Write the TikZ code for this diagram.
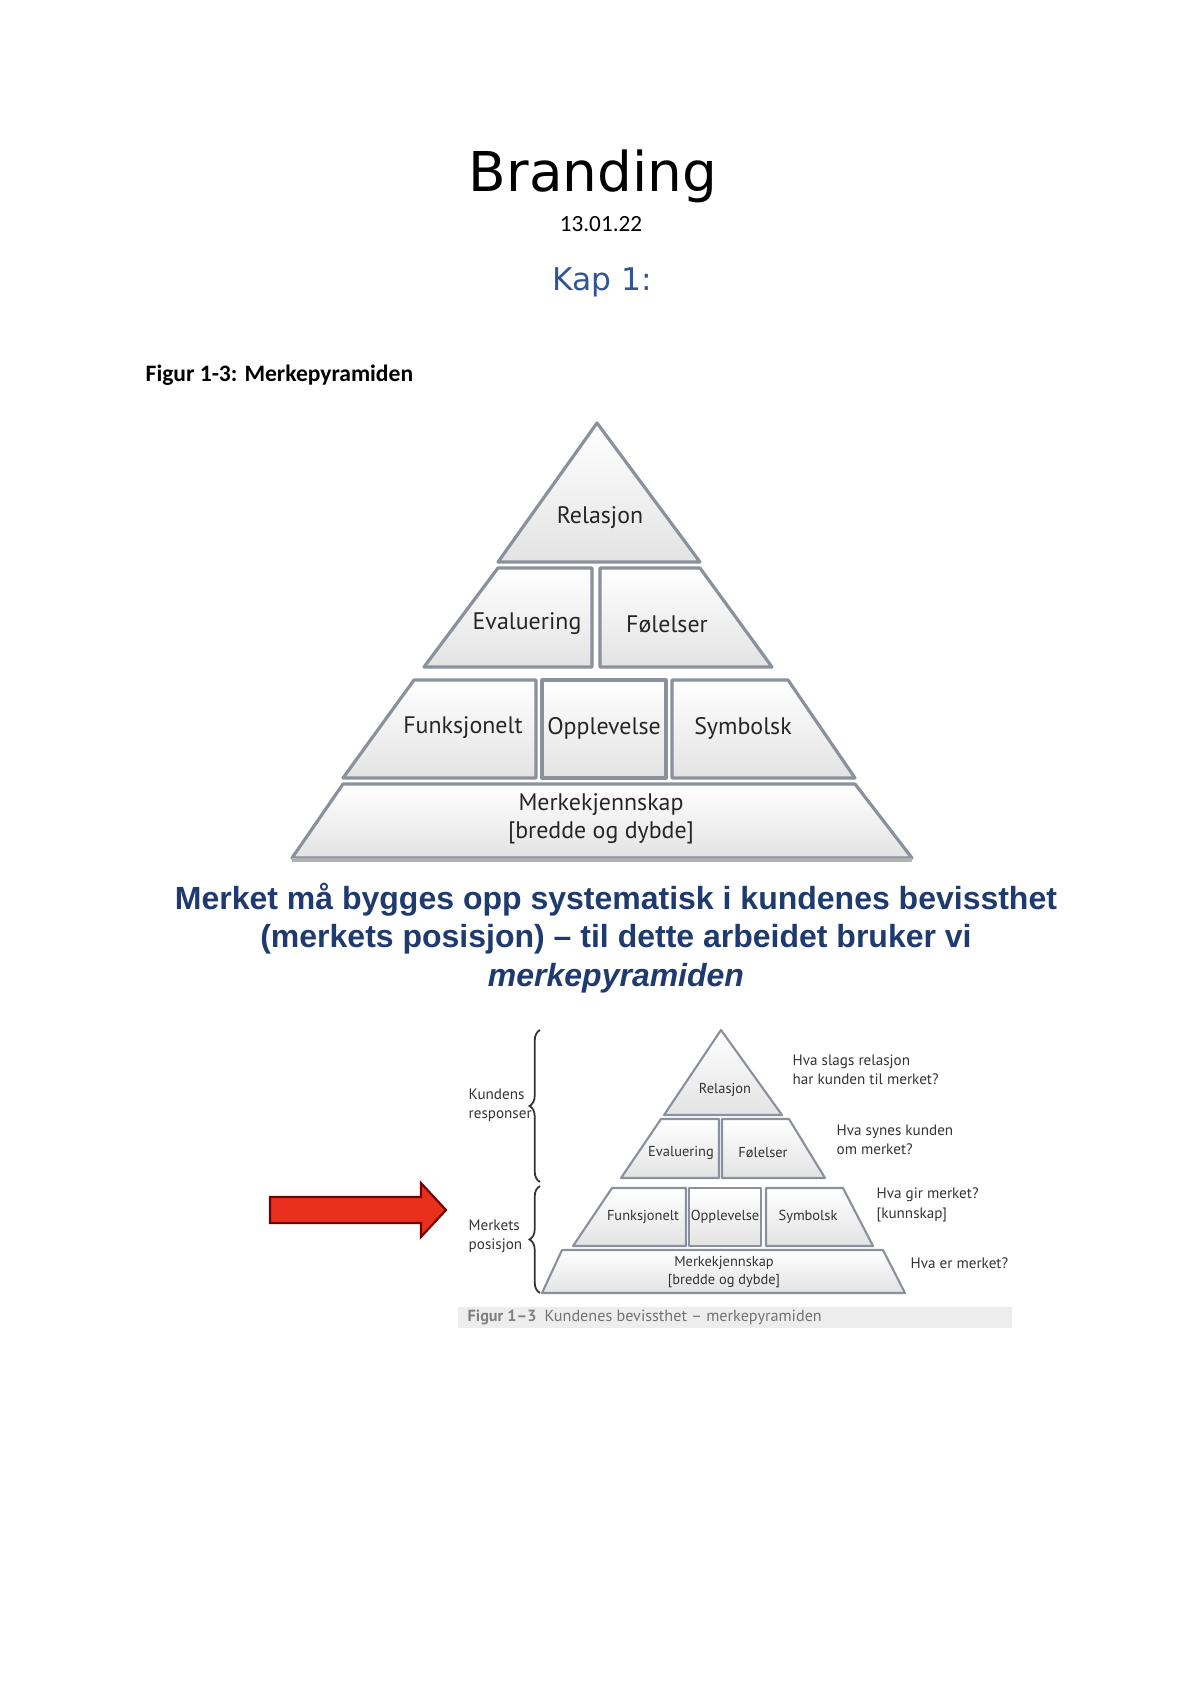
\documentclass[tikz,border=0pt]{standalone}
\usepackage{fontspec}
\setmainfont{Carlito}
\newfontfamily\pyr{PT Sans}
\newfontfamily\hd{Liberation Sans}
\newfontfamily\djsans{DejaVu Sans}
\usetikzlibrary{decorations.pathreplacing}
\definecolor{edge}{HTML}{8A909C}
\definecolor{navy}{HTML}{1F3A6E}
\definecolor{kap}{HTML}{2F5597}
\definecolor{arrred}{HTML}{E8301C}
\tikzset{
 tier/.style={draw=edge,line width=0.9pt,top color=white,bottom color=gray!22,line join=round},
 tiers/.style={draw=edge,line width=0.6pt,top color=white,bottom color=gray!22,line join=round},
 big/.style={font=\pyr\fontsize{6.8pt}{8pt}\selectfont,text=black!85,align=center,inner sep=0},
 small/.style={font=\pyr\fontsize{4.1pt}{5.2pt}\selectfont,text=black!80,align=center,inner sep=0},
 q/.style={font=\pyr\fontsize{4.3pt}{5.5pt}\selectfont,text=black!80,align=left,anchor=west,inner sep=0},
}
\begin{document}
\begin{tikzpicture}[x=0.01cm,y=-0.01cm]
\useasboundingbox (0,0) rectangle (1200,1698);
% header
\node (title) at (593,176) {\djsans\fontsize{15.6pt}{18pt}\selectfont Branding};
\node (date) at (601,224) {\fontsize{6.6pt}{8pt}\selectfont 13.01.22};
\node (kap) at (602,282) {\color{kap}\djsans\fontsize{8.9pt}{11pt}\selectfont Kap 1:};
\node[anchor=west,inner sep=0] (fig) at (145,375) {\bfseries\fontsize{6.7pt}{8pt}\selectfont Figur 1-3: Merkepyramiden};
% top pyramid
\draw[tier] (597,423) -- (700,562) -- (498,562) -- cycle;
\draw[tier] (498,568) -- (592,568) -- (592,667) -- (424,667) -- cycle;
\draw[tier] (600,568) -- (700,568) -- (772,667) -- (600,667) -- cycle;
\draw[tier] (414,680) -- (536,680) -- (536,778) -- (343,778) -- cycle;
\draw[tier] (542,680) -- (666,680) -- (666,778) -- (542,778) -- cycle;
\draw[tier] (672,680) -- (788,680) -- (855,778) -- (672,778) -- cycle;
\draw[tier] (343,784) -- (855,784) -- (912,858) -- (292,858) -- cycle;
\fill[gray!60] (292,858) rectangle (912,862);
\node[big] (t1) at (600,518) {Relasjon};
\node[big] (t2) at (527,624) {Evaluering};
\node[big] (t3) at (667,624) {Følelser};
\node[big] (t4) at (463,728) {Funksjonelt};
\node[big] (t5) at (604,728) {Opplevelse};
\node[big] (t6) at (743,728) {Symbolsk};
\node[big] (t7) at (601,819) {Merkekjennskap\\{[}bredde og dybde{]}};
% heading
\node[font=\hd\bfseries\fontsize{9.1pt}{10.9pt}\selectfont,text=navy,align=center] (head) at (616,938)
 {Merket må bygges opp systematisk i kundenes bevissthet\\(merkets posisjon) – til dette arbeidet bruker vi\\\itshape merkepyramiden};
% bottom pyramid
\draw[tiers] (721,1030) -- (782,1115) -- (664,1115) -- cycle;
\draw[tiers] (661,1119) -- (719,1119) -- (719,1178) -- (621,1178) -- cycle;
\draw[tiers] (722,1119) -- (789,1119) -- (825,1178) -- (722,1178) -- cycle;
\draw[tiers] (612,1188) -- (686,1188) -- (686,1246) -- (573,1246) -- cycle;
\draw[tiers] (689,1188) -- (761,1188) -- (761,1246) -- (689,1246) -- cycle;
\draw[tiers] (766,1188) -- (843,1188) -- (873,1246) -- (766,1246) -- cycle;
\draw[tiers] (562,1250) -- (883,1250) -- (905,1293) -- (542,1293) -- cycle;
\node[small] (b1) at (725,1090) {Relasjon};
\node[small] (b2) at (681,1153) {Evaluering};
\node[small] (b3) at (763,1153) {Følelser};
\node[small] (b4) at (643,1217) {Funksjonelt};
\node[small] (b5) at (725,1217) {Opplevelse};
\node[small] (b6) at (808,1217) {Symbolsk};
\node[small] (b7) at (724,1272) {Merkekjennskap\\{[}bredde og dybde{]}};
\node[q] (q1) at (792,1070) {Hva slags relasjon\\har kunden til merket?};
\node[q] (q2) at (836,1140) {Hva synes kunden\\om merket?};
\node[q] (q3) at (876,1205) {Hva gir merket?\\{[}kunnskap{]}};
\node[q] (q4) at (910,1263) {Hva er merket?};
% braces
\coordinate (br1a) at (540,1182); \coordinate (br1b) at (540,1030);
\coordinate (br2a) at (540,1293); \coordinate (br2b) at (540,1186);
\draw[decorate,decoration={brace,amplitude=3pt},line width=0.5pt,black!80] (br1a) -- (br1b);
\draw[decorate,decoration={brace,amplitude=3pt},line width=0.5pt,black!80] (br2a) -- (br2b);
\node[q] (k1) at (468,1105) {Kundens\\responser};
\node[q] (k2) at (468,1236) {Merkets\\posisjon};
% caption
\fill[gray!14] (458,1307) rectangle (1012,1328);
\node[q,font=\pyr\fontsize{4.6pt}{5.5pt}\selectfont] (cap) at (467,1317) {\textcolor{gray}{\bfseries Figur 1–3}\enspace\textcolor{gray!90!black}{Kundenes bevissthet – merkepyramiden}};
% red arrow
\coordinate (arrtip) at (446,1210);
\draw[fill=arrred,draw=red!45!black,line width=0.6pt,line join=miter] (270,1197) -- (421,1197) -- (421,1183) -- (arrtip) -- (421,1237) -- (421,1223) -- (270,1223) -- cycle;
\end{tikzpicture}
\end{document}
